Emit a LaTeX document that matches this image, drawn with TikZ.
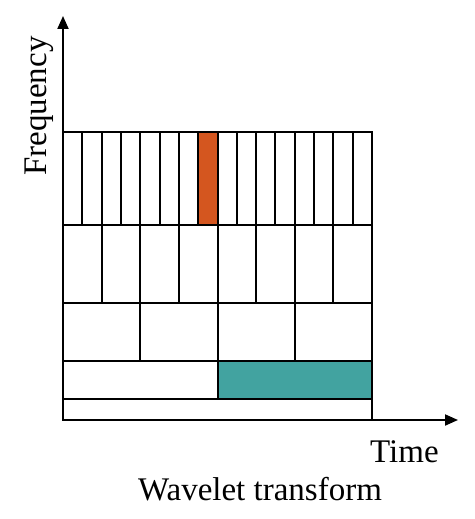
\documentclass[tikz,border=0pt]{standalone}
\usepackage{fontspec}
\setmainfont{Liberation Serif}
\usetikzlibrary{arrows.meta}
\definecolor{hiorange}{HTML}{D4561F}
\definecolor{hiteal}{HTML}{42A3A0}
\tikzset{
  gridline/.style={line width=2pt, line cap=rect},
  axisline/.style={line width=2pt, -{Triangle[length=13pt,width=11pt]}},
  lbl/.style={font=\fontsize{33}{38}\selectfont, inner sep=0pt}
}
\begin{document}
\begin{tikzpicture}[x=1pt,y=-1pt]
\useasboundingbox (0,0) rectangle (474,519);
% fills
\fill[hiorange] (63+7*19.3125,131.5) rectangle (63+8*19.3125,225);
\fill[hiteal] (217.5,361) rectangle (372,399);
% grid
\draw[gridline] (63,131.5) rectangle (372,420);
\foreach \yy in {225,303,361,399} \draw[gridline] (63,\yy) -- (372,\yy);
\foreach \i in {1,...,15} \draw[gridline] (63+\i*19.3125,131.5) -- (63+\i*19.3125,225);
\foreach \i in {1,...,7} \draw[gridline] (63+\i*38.625,225) -- (63+\i*38.625,303);
\foreach \i in {1,...,3} \draw[gridline] (63+\i*77.25,303) -- (63+\i*77.25,361);
\draw[gridline] (217.5,361) -- (217.5,399);
% axes
\coordinate (o) at (63,420);
\coordinate (ytip) at (63,16);
\coordinate (xtip) at (458,420);
\draw[axisline] (o) -- (ytip);
\draw[axisline] (o) -- (xtip);
% labels
\node[lbl, rotate=90, anchor=base] (freq) at (46,106) {Frequency};
\node[lbl, anchor=base west] (time) at (370,462) {Time};
\node[lbl, anchor=base] (title) at (260,500) {Wavelet transform};
\end{tikzpicture}
\end{document}
